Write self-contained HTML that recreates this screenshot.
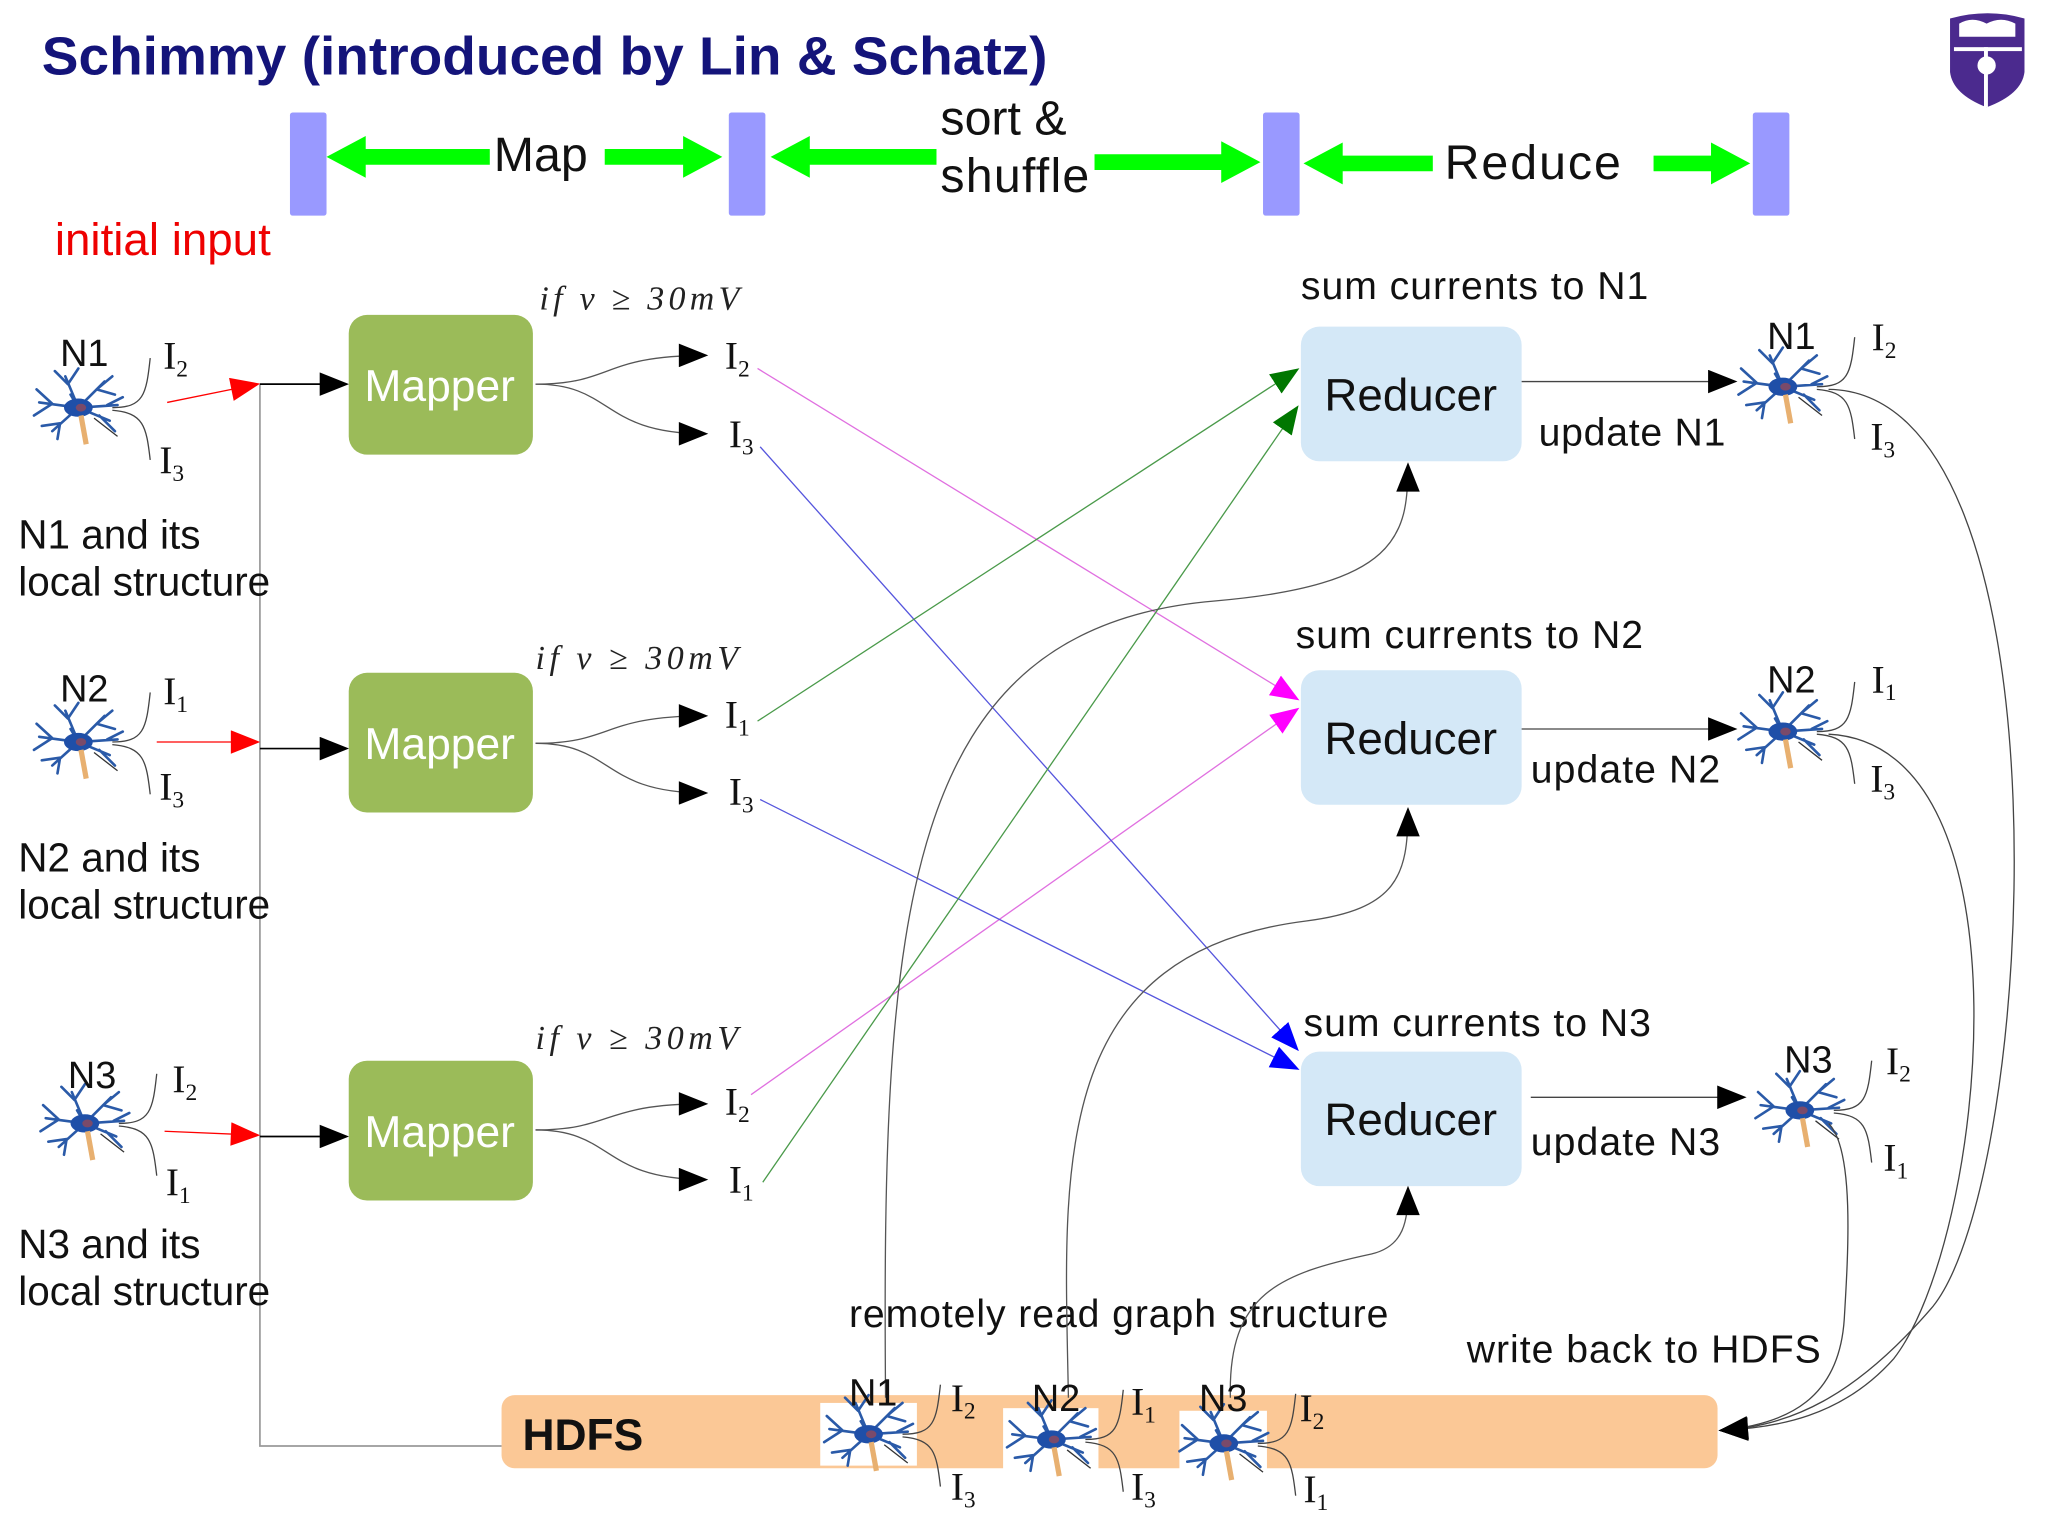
<!DOCTYPE html>
<html><head><meta charset="utf-8"><style>
html,body{margin:0;padding:0;background:#fff;}
svg{display:block;}
.s{font-family:"Liberation Sans",sans-serif;}
.r{font-family:"Liberation Serif",serif;font-size:30px;fill:#111;}
.m{font-family:"Liberation Serif",serif;font-size:26px;fill:#222;}
</style></head><body>
<svg width="2048" height="1535" viewBox="0 0 1568 1175" xmlns="http://www.w3.org/2000/svg">
<defs>
<marker id="ab" viewBox="0 0 10 8" refX="9" refY="4" markerWidth="26" markerHeight="18" orient="auto" markerUnits="userSpaceOnUse"><path d="M0,0L10,4L0,8z" fill="#000"/></marker>
<marker id="ar" viewBox="0 0 10 8" refX="9" refY="4" markerWidth="26" markerHeight="18" orient="auto" markerUnits="userSpaceOnUse"><path d="M0,0L10,4L0,8z" fill="#f00"/></marker>
<marker id="ap" viewBox="0 0 10 8" refX="9" refY="4" markerWidth="22" markerHeight="18" orient="auto" markerUnits="userSpaceOnUse"><path d="M0,0L10,4L0,8z" fill="#f0f"/></marker>
<marker id="abl" viewBox="0 0 10 8" refX="9" refY="4" markerWidth="22" markerHeight="18" orient="auto" markerUnits="userSpaceOnUse"><path d="M0,0L10,4L0,8z" fill="#00f"/></marker>
<marker id="ag" viewBox="0 0 10 8" refX="9" refY="4" markerWidth="22" markerHeight="18" orient="auto" markerUnits="userSpaceOnUse"><path d="M0,0L10,4L0,8z" fill="#070"/></marker>
<g id="nr">
 <g stroke="#2a5aa8" stroke-width="2" fill="none" stroke-linecap="round">
  <path d="M0 0L-30 -4M-20 -3L-32 -14M-20 -3L-34 6M0 0L-10 -24M-8 -18L-18 -28M-8 -18L0 -30M0 0L20 -20M14 -14L26 -24M14 -14L28 -10M0 0L-20 18M-14 12L-28 14M-14 12L-16 24M0 0L24 10M16 6L28 18M0 0L-6 -10M0 0L30 -2M22 -2L34 -8"/>
 </g>
 <ellipse cx="0" cy="0" rx="11" ry="7" fill="#1f4fa8"/>
 <ellipse cx="2" cy="0" rx="4" ry="3" fill="#7a4a6a"/>
 <path d="M2 6L6 28" stroke="#e8b070" stroke-width="4"/>
 <path d="M12 8L30 22" stroke="#333" stroke-width="1"/>
 <path d="M26 0C50 0 52 -10 55 -38M26 2C50 4 52 14 55 40" stroke="#444" stroke-width="1" fill="none"/>
</g>
</defs>

<text x="32" y="57" class="s" font-size="41" font-weight="bold" fill="#14147a" textLength="770" lengthAdjust="spacingAndGlyphs">Schimmy (introduced by Lin &amp; Schatz)</text>
<g>
 <path d="M1493 14Q1522 6 1550 14L1550 55Q1548 72 1521 82Q1495 72 1493 55Z" fill="#4b2a8e"/>
 <path d="M1500 18Q1510 12 1521 18Q1532 12 1543 18L1543 28L1500 28Z" fill="#fff"/>
 <rect x="1519" y="36" width="3" height="46" fill="#fff"/>
 <rect x="1496" y="36" width="52" height="3" fill="#fff"/>
 <circle cx="1521" cy="50" r="7" fill="#fff"/>
</g>

<g fill="#9999ff">
 <rect x="222" y="86" width="28" height="79" rx="2"/>
 <rect x="558" y="86" width="28" height="79" rx="2"/>
 <rect x="967" y="86" width="28" height="79" rx="2"/>
 <rect x="1342" y="86" width="28" height="79" rx="2"/>
</g>
<g fill="#00ff00">
 <path d="M250 120L280 104L280 114L375 114L375 126L280 126L280 136Z"/>
 <path d="M553 120L523 104L523 114L463 114L463 126L523 126L523 136Z"/>
 <path d="M590 120L620 104L620 114L717 114L717 126L620 126L620 136Z"/>
 <path d="M965 124L935 108L935 118L838 118L838 130L935 130L935 140Z"/>
 <path d="M998 125L1028 109L1028 119L1097 119L1097 131L1028 131L1028 141Z"/>
 <path d="M1340 125L1310 109L1310 119L1266 119L1266 131L1310 131L1310 141Z"/>
</g>
<g class="s" font-size="37" fill="#111">
 <text x="378" y="131">Map</text>
 <text x="720" y="103">sort &amp;</text>
 <text x="720" y="147" textLength="114">shuffle</text>
 <text x="1106" y="137" textLength="135">Reduce</text>
</g>
<text x="42" y="195" class="s" font-size="35" fill="#e00">initial input</text>

<path d="M199 294L199 1107L384 1107" stroke="#999" stroke-width="1.3" fill="none"/>
<g stroke="#000" stroke-width="1.3" marker-end="url(#ab)">
 <line x1="199" y1="294" x2="265" y2="294"/>
 <line x1="199" y1="573" x2="265" y2="573"/>
 <line x1="199" y1="870" x2="265" y2="870"/>
</g>
<g stroke="#f00" stroke-width="1" marker-end="url(#ar)">
 <line x1="128" y1="308" x2="197" y2="294"/>
 <line x1="120" y1="568" x2="197" y2="568"/>
 <line x1="126" y1="866" x2="197" y2="869"/>
</g>

<use href="#nr" x="60" y="312"/>
<use href="#nr" x="60" y="568"/>
<use href="#nr" x="65" y="860"/>
<g class="s" font-size="29" fill="#111">
 <text x="46" y="280">N1</text><text x="46" y="537">N2</text><text x="52" y="833">N3</text>
</g>
<text x="125" y="282" class="r">I<tspan font-size="18" dy="6">2</tspan></text>
<text x="122" y="362" class="r">I<tspan font-size="18" dy="6">3</tspan></text>
<text x="125" y="539" class="r">I<tspan font-size="18" dy="6">1</tspan></text>
<text x="122" y="612" class="r">I<tspan font-size="18" dy="6">3</tspan></text>
<text x="132" y="836" class="r">I<tspan font-size="18" dy="6">2</tspan></text>
<text x="127" y="915" class="r">I<tspan font-size="18" dy="6">1</tspan></text>
<g class="s" font-size="31" fill="#111">
 <text x="14" y="420">N1 and its</text><text x="14" y="456">local structure</text>
 <text x="14" y="667">N2 and its</text><text x="14" y="703">local structure</text>
 <text x="14" y="963">N3 and its</text><text x="14" y="999">local structure</text>
</g>

<g fill="#9bbb59">
 <rect x="267" y="241" width="141" height="107" rx="14"/>
 <rect x="267" y="515" width="141" height="107" rx="14"/>
 <rect x="267" y="812" width="141" height="107" rx="14"/>
</g>
<g class="s" font-size="34" fill="#fff">
 <text x="279" y="307">Mapper</text><text x="279" y="581">Mapper</text><text x="279" y="878">Mapper</text>
</g>
<g class="m" font-style="italic">
 <text x="413" y="237" textLength="153">if v ≥ 30mV</text>
 <text x="410" y="512" textLength="155">if v ≥ 30mV</text>
 <text x="410" y="803" textLength="155">if v ≥ 30mV</text>
</g>
<g stroke="#555" stroke-width="1" fill="none" marker-end="url(#ab)">
 <path d="M410 294C470 294 460 272 540 272"/>
 <path d="M410 294C470 294 460 332 540 332"/>
 <path d="M410 569C470 569 460 548 540 548"/>
 <path d="M410 569C470 569 460 607 540 607"/>
 <path d="M410 865C470 865 460 845 540 845"/>
 <path d="M410 865C470 865 460 903 540 903"/>
</g>
<text x="555" y="282" class="r">I<tspan font-size="18" dy="6">2</tspan></text>
<text x="558" y="342" class="r">I<tspan font-size="18" dy="6">3</tspan></text>
<text x="555" y="557" class="r">I<tspan font-size="18" dy="6">1</tspan></text>
<text x="558" y="616" class="r">I<tspan font-size="18" dy="6">3</tspan></text>
<text x="555" y="853" class="r">I<tspan font-size="18" dy="6">2</tspan></text>
<text x="558" y="913" class="r">I<tspan font-size="18" dy="6">1</tspan></text>

<line x1="580" y1="282" x2="993" y2="535" stroke="#e070e0" stroke-width="1" marker-end="url(#ap)"/>
<line x1="575" y1="838" x2="993" y2="543" stroke="#e070e0" stroke-width="1" marker-end="url(#ap)"/>
<line x1="582" y1="342" x2="993" y2="803" stroke="#5555dd" stroke-width="1" marker-end="url(#abl)"/>
<line x1="582" y1="612" x2="993" y2="818" stroke="#5555dd" stroke-width="1" marker-end="url(#abl)"/>
<line x1="580" y1="552" x2="993" y2="283" stroke="#4a9a4a" stroke-width="1" marker-end="url(#ag)"/>
<line x1="584" y1="905" x2="993" y2="312" stroke="#4a9a4a" stroke-width="1" marker-end="url(#ag)"/>

<g fill="#d4e8f7">
 <rect x="996" y="250" width="169" height="103" rx="14"/>
 <rect x="996" y="513" width="169" height="103" rx="14"/>
 <rect x="996" y="805" width="169" height="103" rx="14"/>
</g>
<g class="s" font-size="35" fill="#111">
 <text x="1014" y="314">Reducer</text><text x="1014" y="577">Reducer</text><text x="1014" y="869">Reducer</text>
</g>
<g class="s" font-size="30" fill="#111">
 <text x="996" y="229" textLength="266">sum currents to N1</text>
 <text x="992" y="496" textLength="266">sum currents to N2</text>
 <text x="998" y="793" textLength="266">sum currents to N3</text>
 <text x="1178" y="341" textLength="143">update N1</text>
 <text x="1172" y="599" textLength="145">update N2</text>
 <text x="1172" y="884" textLength="145">update N3</text>
 <text x="650" y="1016" textLength="413">remotely read graph structure</text>
 <text x="1123" y="1043" textLength="271">write back to HDFS</text>
</g>
<g stroke="#444" stroke-width="1" marker-end="url(#ab)">
 <line x1="1165" y1="292" x2="1328" y2="292"/>
 <line x1="1165" y1="558" x2="1328" y2="558"/>
 <line x1="1172" y1="840" x2="1335" y2="840"/>
</g>

<rect x="384" y="1068" width="931" height="56" rx="10" fill="#fbc896"/>
<text x="400" y="1110" class="s" font-size="34" font-weight="bold" fill="#111">HDFS</text>
<g fill="#fff">
 <rect x="628" y="1074" width="74" height="48"/>
 <rect x="768" y="1078" width="73" height="48"/>
 <rect x="903" y="1080" width="67" height="48"/>
</g>

<g stroke="#555" stroke-width="1" fill="none" marker-end="url(#ab)">
 <path d="M678 1070C675 700 690 480 930 460C1070 448 1078 410 1078 356"/>
 <path d="M818 1070C815 900 800 730 1000 705C1070 696 1078 670 1078 620"/>
 <path d="M942 1070C940 990 980 975 1050 960C1075 954 1078 935 1078 910"/>
</g>

<use href="#nr" x="665" y="1098"/>
<use href="#nr" x="805" y="1102"/>
<use href="#nr" x="937" y="1105"/>
<g class="s" font-size="29" fill="#111">
 <text x="650" y="1076">N1</text><text x="790" y="1080">N2</text><text x="918" y="1080">N3</text>
</g>
<text x="728" y="1080" class="r">I<tspan font-size="18" dy="6">2</tspan></text>
<text x="728" y="1148" class="r">I<tspan font-size="18" dy="6">3</tspan></text>
<text x="866" y="1083" class="r">I<tspan font-size="18" dy="6">1</tspan></text>
<text x="866" y="1148" class="r">I<tspan font-size="18" dy="6">3</tspan></text>
<text x="995" y="1088" class="r">I<tspan font-size="18" dy="6">2</tspan></text>
<text x="998" y="1150" class="r">I<tspan font-size="18" dy="6">1</tspan></text>

<use href="#nr" x="1365" y="296"/>
<use href="#nr" x="1365" y="560"/>
<use href="#nr" x="1378" y="850"/>
<g class="s" font-size="29" fill="#111">
 <text x="1353" y="267">N1</text><text x="1353" y="530">N2</text><text x="1366" y="821">N3</text>
</g>
<text x="1433" y="268" class="r">I<tspan font-size="18" dy="6">2</tspan></text>
<text x="1432" y="344" class="r">I<tspan font-size="18" dy="6">3</tspan></text>
<text x="1433" y="530" class="r">I<tspan font-size="18" dy="6">1</tspan></text>
<text x="1432" y="606" class="r">I<tspan font-size="18" dy="6">3</tspan></text>
<text x="1444" y="822" class="r">I<tspan font-size="18" dy="6">2</tspan></text>
<text x="1442" y="896" class="r">I<tspan font-size="18" dy="6">1</tspan></text>

<g stroke="#444" stroke-width="1" fill="none" marker-end="url(#ab)">
 <path d="M1400 298C1590 300 1560 900 1480 1000C1420 1070 1370 1092 1318 1095"/>
 <path d="M1400 562C1560 570 1520 950 1450 1040C1410 1085 1360 1093 1318 1095"/>
 <path d="M1400 860C1420 880 1415 960 1412 1010C1408 1070 1370 1090 1318 1095"/>
</g>
</svg>
</body></html>
